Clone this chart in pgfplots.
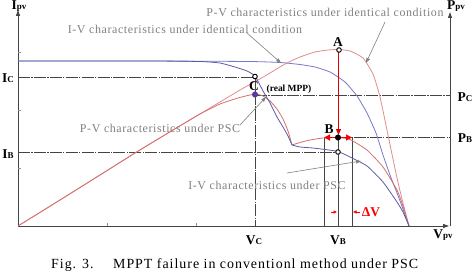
\documentclass[border=0pt]{standalone}
\usepackage{pgfplots}
\pgfplotsset{compat=1.18}
\usepackage{fontspec}
\setmainfont{Liberation Serif}
\newfontfamily\spaced[LetterSpace=5]{Liberation Serif}
\newfontfamily\capspaced[LetterSpace=7]{Liberation Serif}
\usetikzlibrary{arrows.meta}
\definecolor{ivid}{HTML}{7878C8}
\definecolor{ivpsc}{HTML}{5A5AA6}
\definecolor{pvid}{HTML}{E08C8C}
\definecolor{pvpsc}{HTML}{D47070}
\definecolor{axc}{HTML}{444444}
\definecolor{annc}{HTML}{808080}
\definecolor{mppc}{HTML}{5A3A9A}
\tikzset{refl/.style={axc,line width=0.7pt,dash pattern=on 12bp off 1.3bp on 1.3bp off 1.3bp},
 ann/.style={annc,line width=0.6pt,-{Triangle[length=5bp,width=3.5bp]}},
 lab/.style={font=\fontsize{13.5}{13.5}\selectfont\bfseries,inner sep=0pt},
 note/.style={font=\spaced\fontsize{12}{12}\selectfont,text=annc,inner sep=0pt}}
\newcommand{\subl}[1]{{\fontsize{9}{9}\selectfont #1}}
\begin{document}
\begin{tikzpicture}
\begin{axis}[width=474bp,height=274bp,scale only axis,xmin=0,xmax=474,ymin=0,ymax=274,
 y dir=reverse,hide axis,clip=false]
\path (axis cs:0,0) rectangle (axis cs:474,274);
% axes
\draw[axc,line width=0.9pt,-{Triangle[length=6bp,width=4bp]}] (axis cs:18,226) -- (axis cs:18,10);
\draw[axc,line width=0.9pt,-{Triangle[length=6bp,width=4bp]}] (axis cs:18,226) -- (axis cs:449,226);
\draw[axc,line width=0.9pt,-{Triangle[length=6bp,width=4bp]}] (axis cs:450,226) -- (axis cs:450,12);
\draw[axc!60,line width=0.4pt] (axis cs:18,52) -- (axis cs:21,52);
\draw[axc!60,line width=0.4pt] (axis cs:18,110) -- (axis cs:21,110);
\draw[axc!60,line width=0.4pt] (axis cs:18,168) -- (axis cs:21,168);
\draw[axc!60,line width=0.4pt] (axis cs:107,226) -- (axis cs:107,223);
\draw[axc!60,line width=0.4pt] (axis cs:196,226) -- (axis cs:196,223);
% reference lines
\draw[refl] (axis cs:18,77) -- (axis cs:255,77);
\draw[refl] (axis cs:255,95) -- (axis cs:450,95);
\draw[refl] (axis cs:18,152) -- (axis cs:338,152);
\draw[refl] (axis cs:338,137.5) -- (axis cs:450,137.5);
\draw[refl] (axis cs:255,77) -- (axis cs:255,226);
\draw[axc,line width=0.7pt] (axis cs:338,138) -- (axis cs:338,226);
\draw[axc,line width=0.7pt] (axis cs:324,137.5) -- (axis cs:324,226);
\draw[axc,line width=0.7pt] (axis cs:352,137.5) -- (axis cs:352,226);
% curves
\addplot[ivid,line width=0.8pt,smooth,tension=0.3] coordinates {(18,61) (150,61) (250,61.5) (280,62.5) (300,64.5) (315,67) (330,72) (345,82) (357,96) (367,113) (376,133) (383,155) (390,175) (397,193) (403,209) (409,226)};
\addplot[pvid,line width=0.8pt,smooth,tension=0.3] coordinates {(18,226) (60,200) (100,175) (135,153) (173,130) (210,108) (240,90) (265,76) (285,64) (300,57) (315,52) (328,50) (339,49.5) (350,51) (363,58) (373,74) (380,97) (388,135) (397,178) (403,203) (409,226)};
\addplot[pvpsc,line width=0.8pt,smooth,tension=0.3] coordinates {(18,226) (60,200) (100,175) (135,153) (173,130) (200,114) (220,104) (238,98) (250,95) (256,94) (263,96) (270,101) (277,109) (283,119) (288,131) (292,145)};
\addplot[pvpsc,line width=0.8pt,smooth,tension=0.3] coordinates {(292,145) (300,142.5) (310,140) (323,138) (338,137.5) (350,139.5) (367,150) (383,167) (397,190) (403,206) (409,226)};
\addplot[ivpsc,line width=0.8pt,smooth,tension=0.3] coordinates {(18,61) (150,61) (200,61.5) (220,63) (235,67) (247,71) (255,76) (263,91) (270,103) (277,117) (283,127) (288,136) (292,145)};
\addplot[ivpsc,line width=0.8pt,smooth,tension=0.3] coordinates {(292,145) (300,147) (313,148) (325,149.5) (338,151.5) (350,157) (367,166) (383,182) (397,202) (403,212) (409,226)};
% red arrows
\draw[red!85!black,line width=1.1pt,-{Triangle[length=6bp,width=5bp]}] (axis cs:338.5,52) -- (axis cs:338.5,135);
\draw[red,line width=1.1pt,-{Triangle[length=6bp,width=6bp]}] (axis cs:338,137.5) -- (axis cs:324,137.5);
\draw[red,line width=1.1pt,-{Triangle[length=6bp,width=6bp]}] (axis cs:338,137.5) -- (axis cs:352,137.5);
\draw[red,line width=0.8pt,-{Triangle[length=3.5bp,width=3bp]}] (axis cs:331,212) -- (axis cs:337,212);
\draw[red,line width=0.8pt,-{Triangle[length=3.5bp,width=3bp]}] (axis cs:360,212) -- (axis cs:353,212);
\node[red,font=\fontsize{13.5}{13.5}\selectfont\bfseries,inner sep=0pt] at (axis cs:371,212) {ΔV};
% markers
\addplot[only marks,mark=*,mark size=2.3pt,mark options={draw=black,fill=white,line width=0.9pt}] coordinates {(339,50) (338,152) (255,76.5)};
\addplot[only marks,mark=*,mark size=2.8pt,mark options={draw=black,fill=black}] coordinates {(338,137.5)};
\addplot[only marks,mark=*,mark size=2.8pt,mark options={draw=mppc,fill=mppc}] coordinates {(255,94.5)};
% annotations
\node[note] at (axis cs:325,12) {P-V characteristics under identical condition};
\node[note] at (axis cs:185,29) {I-V characteristics under identical condition};
\node[note] at (axis cs:160,128) {P-V characteristics under PSC};
\node[note] at (axis cs:267,185) {I-V characteristics under PSC};
\draw[ann] (axis cs:385,22) -- (axis cs:366,63);
\draw[ann] (axis cs:247,33) -- (axis cs:281,63);
\draw[ann] (axis cs:240,125) -- (axis cs:266,97);
\draw[ann] (axis cs:287,173) -- (axis cs:361,161);
% labels
\node[lab] at (axis cs:19,6) {I\subl{pv}};
\node[lab] at (axis cs:456,6) {P\subl{pv}};
\node[lab] at (axis cs:8,78) {I\subl{C}};
\node[lab] at (axis cs:8,154) {I\subl{B}};
\node[lab] at (axis cs:465,97) {P\subl{C}};
\node[lab] at (axis cs:465,138) {P\subl{B}};
\node[lab] at (axis cs:254,240) {V\subl{C}};
\node[lab] at (axis cs:338,240) {V\subl{B}};
\node[lab] at (axis cs:443,235) {V\subl{pv}};
\node[lab] at (axis cs:338,42) {A};
\node[lab] at (axis cs:329,129) {B};
\node[lab] at (axis cs:254,86) {C};
\node[font=\fontsize{9.5}{9.5}\selectfont\bfseries,inner sep=0pt] at (axis cs:289,89) {(real MPP)};
\node[anchor=west,inner sep=0pt,font=\capspaced\fontsize{14}{14}\selectfont] at (axis cs:51,265) {Fig. 3.\hspace{1.4em}MPPT failure in conventionl method under PSC};
\end{axis}
\end{tikzpicture}
\end{document}
